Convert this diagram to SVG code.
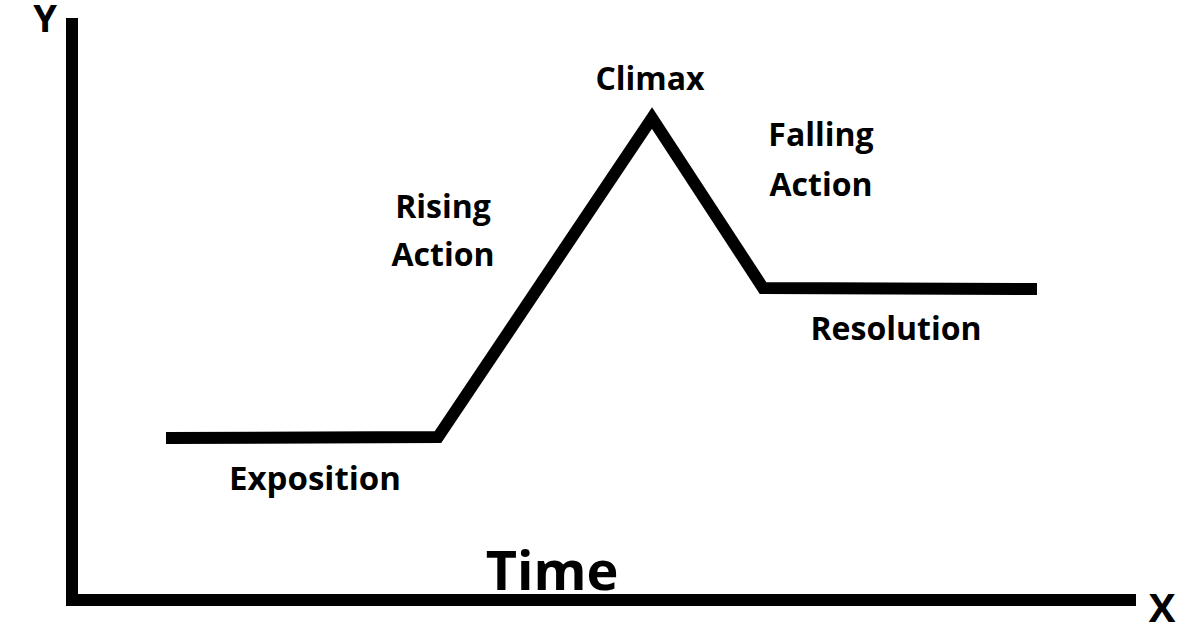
<svg xmlns="http://www.w3.org/2000/svg" width="1200" height="630" viewBox="0 0 1200 630">
<style>
.t{font-family:"Open Sans","Liberation Sans",sans-serif;font-weight:bold;fill:#000;text-anchor:middle}
.l{fill:none;stroke:#000;stroke-width:12}
</style>
<rect width="1200" height="630" fill="#fff"/>
<g id="axes">
<path class="l" d="M72 18 V606 M66 600 H1136"/>
</g>
<g id="connectors">
<path class="l" d="M166 438 L438 437 L652 118 L763 288 L1037 289" stroke-linejoin="miter"/>
</g>
<g id="labels">
<text class="t" x="45" y="32" font-size="38">Y</text>
<text class="t" x="1162" y="622" font-size="40">X</text>
<text class="t" x="650" y="90" font-size="32">Climax</text>
<text class="t" x="443" y="218" font-size="32">Rising</text>
<text class="t" x="443" y="266" font-size="32">Action</text>
<text class="t" x="821" y="146" font-size="32">Falling</text>
<text class="t" x="821" y="196" font-size="32">Action</text>
<text class="t" x="896" y="340" font-size="32">Resolution</text>
<text class="t" x="315" y="490" font-size="33">Exposition</text>
<text class="t" x="552" y="590" font-size="54">Time</text>
</g>
</svg>
